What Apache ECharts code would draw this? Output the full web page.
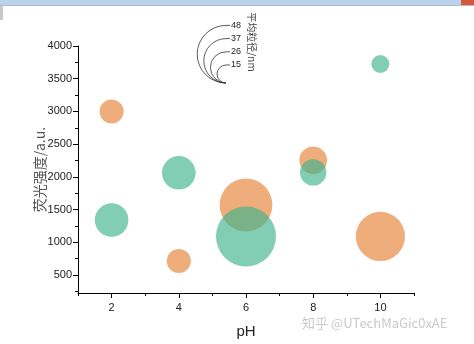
<!DOCTYPE html>
<html>
<head>
<meta charset="utf-8">
<script src="https://cdn.jsdelivr.net/npm/echarts@6/dist/echarts.min.js"></script>
<style>
html,body{margin:0;padding:0;background:#fff;}
#chart{width:474px;height:344px;}
</style>
</head>
<body>
<div id="chart"></div>
<script>
// data: [pH, fluorescence, mean particle size (nm)]
const seriesOrange = [[2, 3000, 20], [4, 715, 20], [6, 1570, 44], [8, 2255, 23], [10, 1090, 41]];
const seriesGreen = [[2, 1340, 28], [4, 2062, 28], [6, 1088, 50], [8, 2068, 22], [10, 3725, 15]];
const xMajorTicks = [2, 4, 6, 8, 10];
const xMinorTicks = [1, 3, 5, 7, 9, 11];
const yMajorTicks = [500, 1000, 1500, 2000, 2500, 3000, 3500, 4000];
const yMinorTicks = [250, 750, 1250, 1750, 2250, 2750, 3250, 3750];
const sizeLegend = [48, 37, 26, 15];
const sizeScale = 1.2; // diameter px per nm

const chart = echarts.init(document.getElementById('chart'));

const legendCx = 226, legendBottom = 83;
const legendGraphics = [];
sizeLegend.forEach(function (s) {
  const r = s * sizeScale / 2;
  const top = legendBottom - 2 * r;
  legendGraphics.push({
    type: 'arc',
    shape: {cx: legendCx, cy: legendBottom - r, r: r, startAngle: Math.PI / 2, endAngle: Math.PI * 1.5, clockwise: true},
    style: {stroke: '#333', lineWidth: 0.8, fill: null}
  });
  legendGraphics.push({
    type: 'line',
    shape: {x1: legendCx, y1: top, x2: legendCx + 4, y2: top},
    style: {stroke: '#333', lineWidth: 0.8}
  });
  legendGraphics.push({
    type: 'text', x: legendCx + 5, y: top,
    style: {text: String(s), fill: '#222', font: '9px "Liberation Sans", Arial', textAlign: 'left', textVerticalAlign: 'middle'}
  });
});
legendGraphics.push({
  type: 'text', x: 252, y: 42, rotation: -Math.PI / 2,
  style: {text: '平均粒径/nm', fill: '#444', font: '10px "Noto Sans CJK SC"', textAlign: 'center', textVerticalAlign: 'middle'}
});

const option = {
  backgroundColor: '#fff',
  animation: false,
  grid: {left: 78, right: 60, top: 46, bottom: 51, containLabel: false},
  xAxis: [{
    type: 'value', min: 1, max: 11,
    name: 'pH', nameLocation: 'middle', nameGap: 31,
    nameTextStyle: {fontSize: 15, color: '#222', fontFamily: '"Liberation Sans", Arial'},
    axisLine: {show: true, lineStyle: {color: '#000', width: 1}},
    axisTick: {show: true, length: 5, customValues: xMajorTicks, lineStyle: {color: '#000'}},
    axisLabel: {customValues: xMajorTicks, fontSize: 11, color: '#222', margin: 9, fontFamily: '"Liberation Sans", Arial',
      formatter: function (v) { return String(v); }},
    splitLine: {show: false}
  }, {
    type: 'value', min: 1, max: 11, position: 'bottom',
    axisLine: {show: false},
    axisTick: {show: true, length: 3, customValues: xMinorTicks, lineStyle: {color: '#000'}},
    axisLabel: {show: false},
    splitLine: {show: false}
  }],
  yAxis: [{
    type: 'value', min: 225, max: 4000,
    name: '荧光强度/a.u.', nameLocation: 'middle', nameGap: 31, nameRotate: 90, nameMoveOverlap: false,
    nameTextStyle: {fontSize: 14, color: '#555', fontFamily: '"Noto Sans CJK SC"', verticalAlign: 'bottom'},
    axisLine: {show: true, lineStyle: {color: '#000', width: 1}},
    axisTick: {show: true, length: 5, customValues: yMajorTicks, lineStyle: {color: '#000'}},
    axisLabel: {customValues: yMajorTicks, fontSize: 11, color: '#222', margin: 6, fontFamily: '"Liberation Sans", Arial',
      formatter: function (v) { return String(v); }},
    splitLine: {show: false}
  }, {
    type: 'value', min: 225, max: 4000, position: 'left',
    axisLine: {show: false},
    axisTick: {show: true, length: 3, customValues: yMinorTicks.filter(v => v > 225), lineStyle: {color: '#000'}},
    axisLabel: {show: false},
    splitLine: {show: false}
  }],
  series: [{
    type: 'scatter', name: 'A', data: seriesOrange,
    symbolSize: function (v) { return v[2] * sizeScale; },
    itemStyle: {color: '#E8914F', opacity: 0.75}
  }, {
    type: 'scatter', name: 'B', data: seriesGreen,
    symbolSize: function (v) { return v[2] * sizeScale; },
    itemStyle: {color: '#3DB38C', opacity: 0.65}
  }],
  graphic: [
    {type: 'rect', shape: {x: 0, y: 0, width: 474, height: 5}, style: {fill: '#BCD2EA'}},
    {type: 'rect', shape: {x: 0, y: 5, width: 474, height: 1}, style: {fill: '#A9BCD0'}},
    {type: 'rect', shape: {x: 461, y: 0, width: 13, height: 5}, style: {fill: '#D9553C'}},
    {type: 'rect', shape: {x: 0, y: 6, width: 3, height: 14}, style: {fill: '#C8C8C8'}},
    {type: 'text', x: 302, y: 323,
     style: {text: '知乎 @UTechMaGic0xAE', fill: '#C9C9C9', font: '13px "Noto Sans CJK SC"', textAlign: 'left', textVerticalAlign: 'middle'}}
  ].concat(legendGraphics)
};
chart.setOption(option);
</script>
</body>
</html>
